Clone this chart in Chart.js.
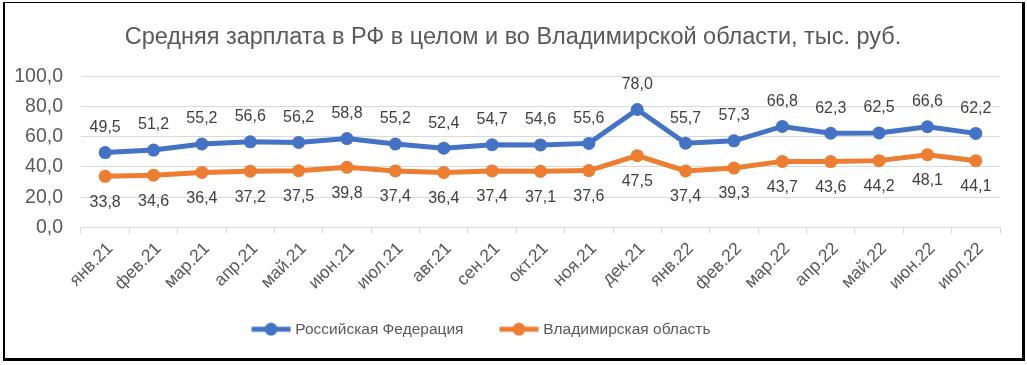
<!DOCTYPE html>
<html>
<head>
<meta charset="utf-8">
<script src="https://cdn.jsdelivr.net/npm/chart.js@4/dist/chart.umd.min.js"></script>
<style>
  html, body { margin: 0; padding: 0; background: #ffffff; }
  #wrap { position: relative; width: 1027px; height: 365px; }
  #frame { position: absolute; left: 3px; top: 2px; width: 1022px; height: 359px; box-sizing: border-box;
           border-style: solid; border-color: #000; border-width: 1px 3px 3px 2px; pointer-events: none; }
  canvas { position: absolute; left: 0; top: 0; }
</style>
</head>
<body>
<div id="wrap">
  <canvas id="c" width="1027" height="365"></canvas>
  <div id="frame"></div>
</div>
<script>
const categories = ['янв.21','фев.21','мар.21','апр.21','май.21','июн.21','июл.21','авг.21','сен.21','окт.21','ноя.21','дек.21','янв.22','фев.22','мар.22','апр.22','май.22','июн.22','июл.22'];
const rfValues = [49.5, 51.2, 55.2, 56.6, 56.2, 58.8, 55.2, 52.4, 54.7, 54.6, 55.6, 78.0, 55.7, 57.3, 66.8, 62.3, 62.5, 66.6, 62.2];
const vladValues = [33.8, 34.6, 36.4, 37.2, 37.5, 39.8, 37.4, 36.4, 37.4, 37.1, 37.6, 47.5, 37.4, 39.3, 43.7, 43.6, 44.2, 48.1, 44.1];
const seriesNames = ['Российская Федерация', 'Владимирская область'];
const titleText = 'Средняя зарплата в РФ в целом и во Владимирской области, тыс. руб.';
const yTicks = [0, 20, 40, 60, 80, 100];

const BLUE = '#4472C4', ORANGE = '#ED7D31';
const FONT = "'Liberation Sans', Arial, sans-serif";
const fmt = v => v.toFixed(1).replace('.', ',');

function legendSymbol(color) {
  const c = document.createElement('canvas');
  c.width = 72; c.height = 14;
  const x = c.getContext('2d');
  x.strokeStyle = color; x.lineWidth = 5; x.lineCap = 'butt';
  x.beginPath(); x.moveTo(31, 7); x.lineTo(70, 7); x.stroke();
  x.fillStyle = color; x.beginPath(); x.arc(50.5, 7, 6.5, 0, Math.PI * 2); x.fill();
  return c;
}
const legendSyms = [legendSymbol(BLUE), legendSymbol(ORANGE)];

const dataLabels = {
  id: 'dataLabels',
  afterDatasetsDraw(chart) {
    const ctx = chart.ctx;
    ctx.save();
    ctx.font = "16px " + FONT;
    ctx.fillStyle = '#404040';
    ctx.textAlign = 'center';
    ctx.textBaseline = 'middle';
    chart.data.datasets.forEach((ds, i) => {
      const meta = chart.getDatasetMeta(i);
      meta.data.forEach((pt, j) => {
        ctx.fillText(fmt(ds.data[j]), pt.x, pt.y + (i === 0 ? -25 : 26));
      });
    });
    ctx.restore();
  }
};

const boxShift = {
  id: 'boxShift',
  afterLayout(chart) {
    if (chart.legend) { chart.legend.left -= 32; chart.legend.right -= 32; }
    if (chart.titleBlock) { chart.titleBlock.left += 13; chart.titleBlock.right += 13; }
  }
};

new Chart(document.getElementById('c'), {
  type: 'line',
  data: {
    labels: categories,
    datasets: [
      { label: seriesNames[0], data: rfValues, borderColor: BLUE, backgroundColor: BLUE,
        borderWidth: 5, pointRadius: 6.5, pointBackgroundColor: BLUE, pointBorderWidth: 0, tension: 0 },
      { label: seriesNames[1], data: vladValues, borderColor: ORANGE, backgroundColor: ORANGE,
        borderWidth: 5, pointRadius: 6.5, pointBackgroundColor: ORANGE, pointBorderWidth: 0, tension: 0 }
    ]
  },
  options: {
    responsive: false,
    animation: false,
    devicePixelRatio: 1,
    layout: { padding: { left: 0, right: 27, top: 0, bottom: 18 } },
    plugins: {
      title: { display: true, text: titleText, color: '#595959',
               font: { family: FONT, size: 23.5, weight: 'normal' }, padding: { top: 23, bottom: 25 } },
      legend: {
        position: 'bottom',
        labels: {
          usePointStyle: true, pointStyleWidth: 62, padding: 10,
          color: '#595959', font: { family: FONT, size: 15.5 },
          generateLabels(chart) {
            return chart.data.datasets.map((ds, i) => ({
              text: ds.label, pointStyle: legendSyms[i], fillStyle: ds.borderColor,
              strokeStyle: ds.borderColor, lineWidth: 0, datasetIndex: i, hidden: false, fontColor: '#595959'
            }));
          }
        }
      },
      tooltip: { enabled: false }
    },
    scales: {
      x: {
        offset: true,
        grid: { drawOnChartArea: false, drawTicks: true, tickLength: 6, color: '#d9d9d9', offset: true },
        border: { display: true, color: '#d9d9d9', width: 1 },
        ticks: { color: '#595959', font: { family: FONT, size: 17.5 }, minRotation: 45, maxRotation: 45,
                 padding: 5, labelOffset: 5, autoSkip: false },
        afterFit(s) { s.height = 84; }
      },
      y: {
        min: 0, max: 100,
        afterBuildTicks(s) { s.ticks = yTicks.map(v => ({ value: v })); },
        grid: { color: '#d9d9d9', drawTicks: false },
        border: { display: false },
        ticks: { color: '#595959', font: { family: FONT, size: 19.5 }, padding: 18, callback: v => fmt(v) },
        afterFit(s) { s.width = 81; }
      }
    }
  },
  plugins: [dataLabels, boxShift]
});
</script>
</body>
</html>
